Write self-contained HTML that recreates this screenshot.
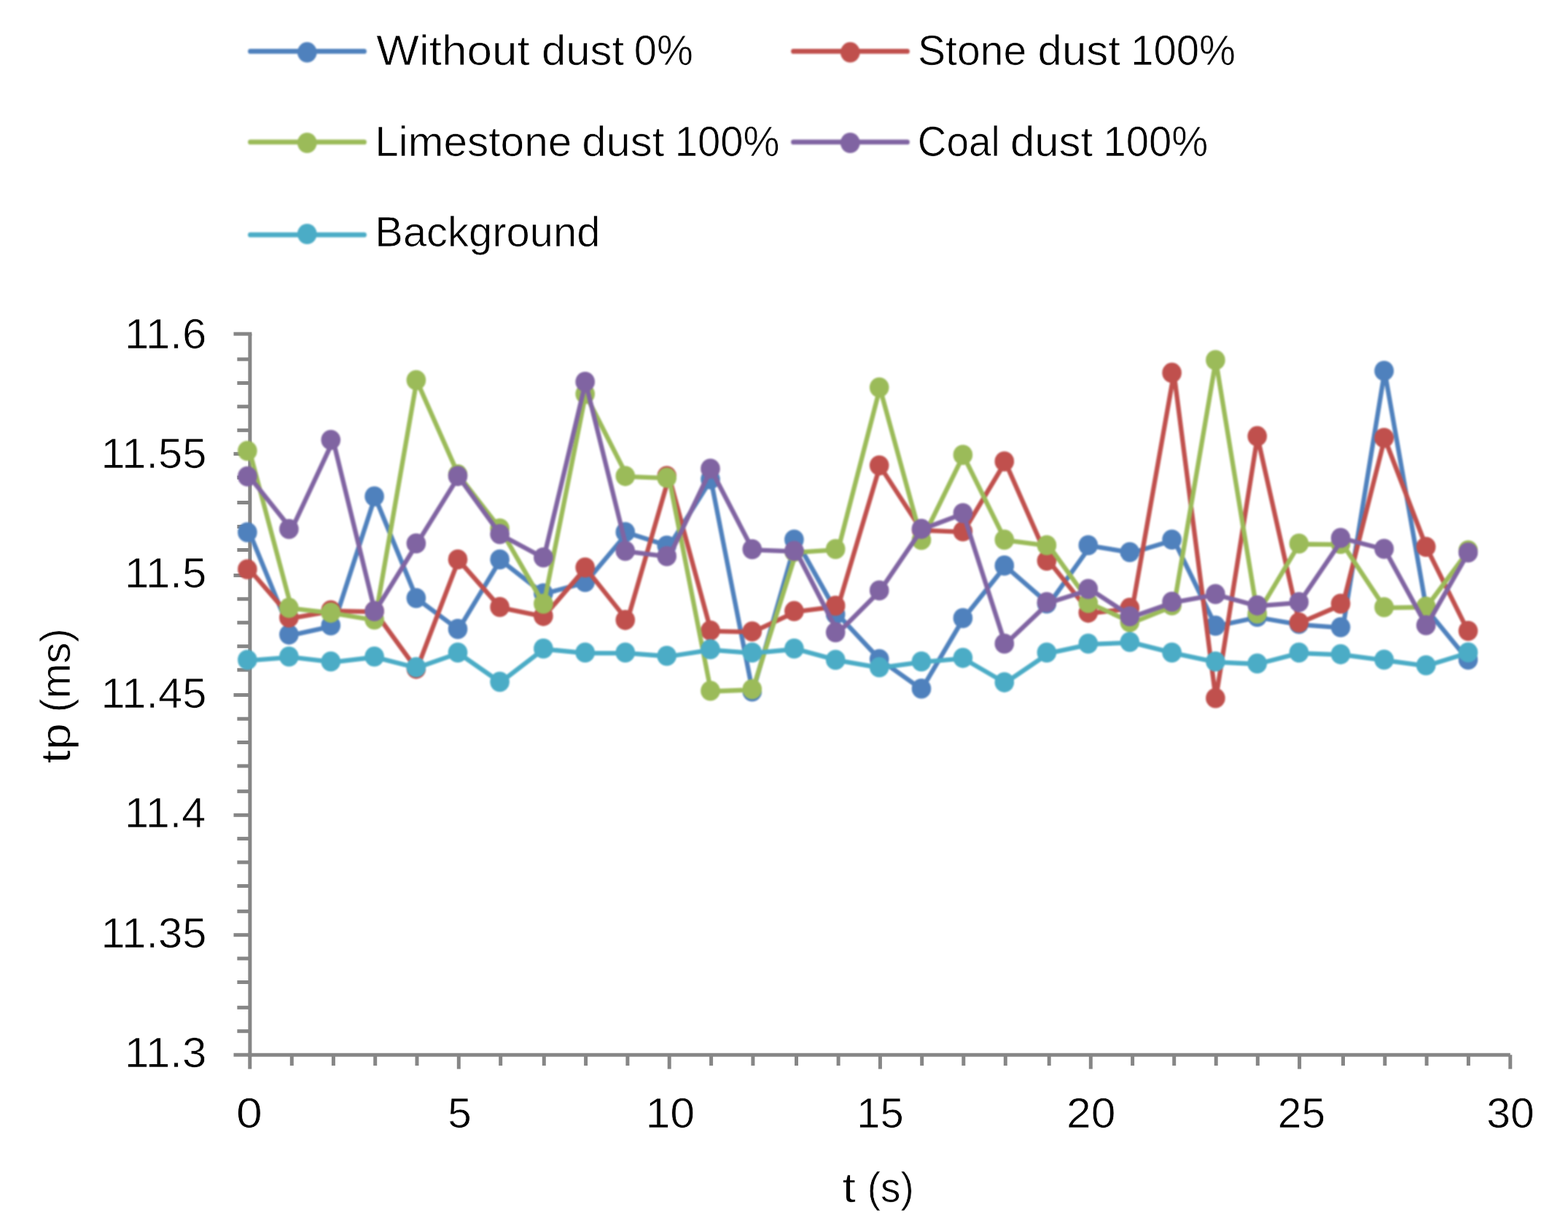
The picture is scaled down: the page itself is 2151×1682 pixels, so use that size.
<!DOCTYPE html>
<html lang="en">
<head>
<meta charset="utf-8">
<title>tp (ms) versus t (s)</title>
<style>
html,body{margin:0;padding:0;background:#ffffff;}
body{width:2151px;height:1682px;overflow:hidden;}
svg{display:block;}
.t{font-family:"Liberation Sans",sans-serif;fill:#000000;stroke:#ffffff;stroke-width:0.7px;}
</style>
</head>
<body>
<svg width="2151" height="1682" viewBox="0 0 2151 1682" role="img" aria-label="Line chart of tp (ms) versus t (s) for five dust conditions">
<rect width="2151" height="1682" fill="#ffffff"/>
<defs><filter id="soft" x="-5%" y="-5%" width="110%" height="110%" color-interpolation-filters="sRGB"><feGaussianBlur stdDeviation="0.8"/></filter></defs>
<g stroke="#868686" stroke-width="5" fill="none" stroke-linecap="butt">
<line x1="342.9" y1="458.1" x2="342.9" y2="1449.7"/>
<line x1="340.4" y1="1447.2" x2="2071.8" y2="1447.2"/>
<line x1="320.5" y1="458.1" x2="345.4" y2="458.1"/>
<line x1="325.4" y1="492.9" x2="342.9" y2="492.9"/>
<line x1="325.4" y1="525.5" x2="342.9" y2="525.5"/>
<line x1="325.4" y1="557.8" x2="342.9" y2="557.8"/>
<line x1="325.4" y1="590.3" x2="342.9" y2="590.3"/>
<line x1="320.5" y1="622.7" x2="342.9" y2="622.7"/>
<line x1="325.4" y1="655.1" x2="342.9" y2="655.1"/>
<line x1="325.4" y1="689.5" x2="342.9" y2="689.5"/>
<line x1="325.4" y1="722.5" x2="342.9" y2="722.5"/>
<line x1="325.4" y1="754.5" x2="342.9" y2="754.5"/>
<line x1="320.5" y1="789.4" x2="342.9" y2="789.4"/>
<line x1="325.4" y1="821.8" x2="342.9" y2="821.8"/>
<line x1="325.4" y1="854.2" x2="342.9" y2="854.2"/>
<line x1="325.4" y1="886.7" x2="342.9" y2="886.7"/>
<line x1="325.4" y1="919.1" x2="342.9" y2="919.1"/>
<line x1="320.5" y1="953.5" x2="342.9" y2="953.5"/>
<line x1="325.4" y1="986.2" x2="342.9" y2="986.2"/>
<line x1="325.4" y1="1018.5" x2="342.9" y2="1018.5"/>
<line x1="325.4" y1="1050.9" x2="342.9" y2="1050.9"/>
<line x1="325.4" y1="1085.7" x2="342.9" y2="1085.7"/>
<line x1="320.5" y1="1118.3" x2="342.9" y2="1118.3"/>
<line x1="325.4" y1="1150.6" x2="342.9" y2="1150.6"/>
<line x1="325.4" y1="1183.0" x2="342.9" y2="1183.0"/>
<line x1="325.4" y1="1215.5" x2="342.9" y2="1215.5"/>
<line x1="325.4" y1="1250.3" x2="342.9" y2="1250.3"/>
<line x1="320.5" y1="1282.7" x2="342.9" y2="1282.7"/>
<line x1="325.4" y1="1315.0" x2="342.9" y2="1315.0"/>
<line x1="325.4" y1="1347.5" x2="342.9" y2="1347.5"/>
<line x1="325.4" y1="1382.3" x2="342.9" y2="1382.3"/>
<line x1="325.4" y1="1414.7" x2="342.9" y2="1414.7"/>
<line x1="320.5" y1="1447.2" x2="342.9" y2="1447.2"/>
<line x1="342.8" y1="1447.2" x2="342.8" y2="1466.6"/>
<line x1="400.3" y1="1447.2" x2="400.3" y2="1462.0"/>
<line x1="457.4" y1="1447.2" x2="457.4" y2="1462.0"/>
<line x1="514.7" y1="1447.2" x2="514.7" y2="1462.0"/>
<line x1="572.0" y1="1447.2" x2="572.0" y2="1462.0"/>
<line x1="629.3" y1="1447.2" x2="629.3" y2="1466.6"/>
<line x1="686.7" y1="1447.2" x2="686.7" y2="1462.0"/>
<line x1="746.3" y1="1447.2" x2="746.3" y2="1462.0"/>
<line x1="803.6" y1="1447.2" x2="803.6" y2="1462.0"/>
<line x1="860.9" y1="1447.2" x2="860.9" y2="1462.0"/>
<line x1="918.2" y1="1447.2" x2="918.2" y2="1466.6"/>
<line x1="975.6" y1="1447.2" x2="975.6" y2="1462.0"/>
<line x1="1032.9" y1="1447.2" x2="1032.9" y2="1462.0"/>
<line x1="1092.5" y1="1447.2" x2="1092.5" y2="1462.0"/>
<line x1="1150.1" y1="1447.2" x2="1150.1" y2="1462.0"/>
<line x1="1207.4" y1="1447.2" x2="1207.4" y2="1466.6"/>
<line x1="1264.7" y1="1447.2" x2="1264.7" y2="1462.0"/>
<line x1="1321.8" y1="1447.2" x2="1321.8" y2="1462.0"/>
<line x1="1379.3" y1="1447.2" x2="1379.3" y2="1462.0"/>
<line x1="1439.2" y1="1447.2" x2="1439.2" y2="1462.0"/>
<line x1="1496.3" y1="1447.2" x2="1496.3" y2="1466.6"/>
<line x1="1553.6" y1="1447.2" x2="1553.6" y2="1462.0"/>
<line x1="1610.7" y1="1447.2" x2="1610.7" y2="1462.0"/>
<line x1="1668.2" y1="1447.2" x2="1668.2" y2="1462.0"/>
<line x1="1725.3" y1="1447.2" x2="1725.3" y2="1462.0"/>
<line x1="1782.6" y1="1447.2" x2="1782.6" y2="1466.6"/>
<line x1="1842.5" y1="1447.2" x2="1842.5" y2="1462.0"/>
<line x1="1899.8" y1="1447.2" x2="1899.8" y2="1462.0"/>
<line x1="1957.1" y1="1447.2" x2="1957.1" y2="1462.0"/>
<line x1="2014.4" y1="1447.2" x2="2014.4" y2="1462.0"/>
<line x1="2071.8" y1="1447.2" x2="2071.8" y2="1466.6"/>
</g>
<g filter="url(#soft)">
<g fill="#4f81bd" stroke="none">
<polyline points="342.5,731.1 400.0,871.4 457.1,858.8 514.4,681.8 571.7,821.3 629.0,863.7 686.4,768.3 746.0,814.8 803.3,799.3 860.6,730.9 917.9,749.3 975.3,658.4 1032.6,949.6 1092.2,741.0 1149.8,843.6 1207.1,905.0 1264.4,945.6 1321.5,848.8 1379.0,776.7 1438.9,828.8 1496.0,748.8 1553.3,758.3 1610.4,741.0 1667.9,859.2 1725.0,847.0 1782.3,856.8 1842.2,861.3 1899.5,509.5 1956.8,835.8 2014.1,905.8" fill="none" stroke="#4f81bd" stroke-width="6.3" stroke-linejoin="round" stroke-linecap="round"/>
<ellipse cx="339.4" cy="730.3" rx="13.3" ry="13.8"/>
<ellipse cx="396.4" cy="870.6" rx="13.3" ry="13.8"/>
<ellipse cx="453.8" cy="858.0" rx="13.3" ry="13.8"/>
<ellipse cx="513.6" cy="681.0" rx="13.3" ry="13.8"/>
<ellipse cx="570.9" cy="820.5" rx="13.3" ry="13.8"/>
<ellipse cx="628.0" cy="862.9" rx="13.3" ry="13.8"/>
<ellipse cx="685.6" cy="767.5" rx="13.3" ry="13.8"/>
<ellipse cx="745.4" cy="814.0" rx="13.3" ry="13.8"/>
<ellipse cx="802.7" cy="798.5" rx="13.3" ry="13.8"/>
<ellipse cx="857.8" cy="730.1" rx="13.3" ry="13.8"/>
<ellipse cx="914.7" cy="748.5" rx="13.3" ry="13.8"/>
<ellipse cx="974.5" cy="657.6" rx="13.3" ry="13.8"/>
<ellipse cx="1031.8" cy="948.8" rx="13.3" ry="13.8"/>
<ellipse cx="1089.4" cy="740.2" rx="13.3" ry="13.8"/>
<ellipse cx="1146.2" cy="842.8" rx="13.3" ry="13.8"/>
<ellipse cx="1206.2" cy="904.2" rx="13.3" ry="13.8"/>
<ellipse cx="1264.0" cy="944.8" rx="13.3" ry="13.8"/>
<ellipse cx="1320.9" cy="848.0" rx="13.3" ry="13.8"/>
<ellipse cx="1377.8" cy="775.9" rx="13.3" ry="13.8"/>
<ellipse cx="1435.9" cy="828.0" rx="13.3" ry="13.8"/>
<ellipse cx="1492.8" cy="748.0" rx="13.3" ry="13.8"/>
<ellipse cx="1549.8" cy="757.5" rx="13.3" ry="13.8"/>
<ellipse cx="1607.6" cy="740.2" rx="13.3" ry="13.8"/>
<ellipse cx="1667.4" cy="858.4" rx="13.3" ry="13.8"/>
<ellipse cx="1724.7" cy="846.2" rx="13.3" ry="13.8"/>
<ellipse cx="1781.9" cy="856.0" rx="13.3" ry="13.8"/>
<ellipse cx="1839.1" cy="860.5" rx="13.3" ry="13.8"/>
<ellipse cx="1898.7" cy="508.7" rx="13.3" ry="13.8"/>
<ellipse cx="1956.2" cy="835.0" rx="13.3" ry="13.8"/>
<ellipse cx="2014.0" cy="905.0" rx="13.3" ry="13.8"/>
</g>
<g fill="#c0504d" stroke="none">
<polyline points="342.5,781.8 400.0,848.1 457.1,838.1 514.4,839.4 571.7,918.4 629.0,768.3 686.4,833.6 746.0,845.9 803.3,779.4 860.6,851.4 917.9,653.8 975.3,865.9 1032.6,867.1 1092.2,839.2 1149.8,831.8 1207.1,639.4 1264.4,727.6 1321.5,729.8 1379.0,633.8 1438.9,770.0 1496.0,841.4 1553.3,834.7 1610.4,512.2 1667.9,958.6 1725.0,599.2 1782.3,854.8 1842.2,829.0 1899.5,601.5 1956.8,751.0 2014.1,866.3" fill="none" stroke="#c0504d" stroke-width="6.3" stroke-linejoin="round" stroke-linecap="round"/>
<ellipse cx="339.4" cy="781.0" rx="13.3" ry="13.8"/>
<ellipse cx="396.4" cy="847.3" rx="13.3" ry="13.8"/>
<ellipse cx="453.8" cy="837.3" rx="13.3" ry="13.8"/>
<ellipse cx="513.6" cy="838.6" rx="13.3" ry="13.8"/>
<ellipse cx="570.9" cy="917.6" rx="13.3" ry="13.8"/>
<ellipse cx="628.0" cy="767.5" rx="13.3" ry="13.8"/>
<ellipse cx="685.6" cy="832.8" rx="13.3" ry="13.8"/>
<ellipse cx="745.4" cy="845.1" rx="13.3" ry="13.8"/>
<ellipse cx="802.7" cy="778.6" rx="13.3" ry="13.8"/>
<ellipse cx="857.8" cy="850.6" rx="13.3" ry="13.8"/>
<ellipse cx="914.7" cy="653.0" rx="13.3" ry="13.8"/>
<ellipse cx="974.5" cy="865.1" rx="13.3" ry="13.8"/>
<ellipse cx="1031.8" cy="866.3" rx="13.3" ry="13.8"/>
<ellipse cx="1089.4" cy="838.4" rx="13.3" ry="13.8"/>
<ellipse cx="1146.2" cy="831.0" rx="13.3" ry="13.8"/>
<ellipse cx="1206.2" cy="638.6" rx="13.3" ry="13.8"/>
<ellipse cx="1264.0" cy="726.8" rx="13.3" ry="13.8"/>
<ellipse cx="1320.9" cy="729.0" rx="13.3" ry="13.8"/>
<ellipse cx="1377.8" cy="633.0" rx="13.3" ry="13.8"/>
<ellipse cx="1435.9" cy="769.2" rx="13.3" ry="13.8"/>
<ellipse cx="1492.8" cy="840.6" rx="13.3" ry="13.8"/>
<ellipse cx="1549.8" cy="833.9" rx="13.3" ry="13.8"/>
<ellipse cx="1607.6" cy="511.4" rx="13.3" ry="13.8"/>
<ellipse cx="1667.4" cy="957.8" rx="13.3" ry="13.8"/>
<ellipse cx="1724.7" cy="598.4" rx="13.3" ry="13.8"/>
<ellipse cx="1781.9" cy="854.0" rx="13.3" ry="13.8"/>
<ellipse cx="1839.1" cy="828.2" rx="13.3" ry="13.8"/>
<ellipse cx="1898.7" cy="600.7" rx="13.3" ry="13.8"/>
<ellipse cx="1956.2" cy="750.2" rx="13.3" ry="13.8"/>
<ellipse cx="2014.0" cy="865.5" rx="13.3" ry="13.8"/>
</g>
<g fill="#9bbb59" stroke="none">
<polyline points="342.5,619.3 400.0,834.7 457.1,841.4 514.4,850.8 571.7,522.3 629.0,651.7 686.4,725.8 746.0,829.1 803.3,541.2 860.6,653.9 917.9,656.2 975.3,948.5 1032.6,946.3 1092.2,757.8 1149.8,754.1 1207.1,532.3 1264.4,741.5 1321.5,624.9 1379.0,741.2 1438.9,748.8 1496.0,828.0 1553.3,854.3 1610.4,831.3 1667.9,494.8 1725.0,842.5 1782.3,746.5 1842.2,747.1 1899.5,833.8 1956.8,833.0 2014.1,755.9" fill="none" stroke="#9bbb59" stroke-width="6.3" stroke-linejoin="round" stroke-linecap="round"/>
<ellipse cx="339.4" cy="618.5" rx="13.3" ry="13.8"/>
<ellipse cx="396.4" cy="833.9" rx="13.3" ry="13.8"/>
<ellipse cx="453.8" cy="840.6" rx="13.3" ry="13.8"/>
<ellipse cx="513.6" cy="850.0" rx="13.3" ry="13.8"/>
<ellipse cx="570.9" cy="521.5" rx="13.3" ry="13.8"/>
<ellipse cx="628.0" cy="650.9" rx="13.3" ry="13.8"/>
<ellipse cx="685.6" cy="725.0" rx="13.3" ry="13.8"/>
<ellipse cx="745.4" cy="828.3" rx="13.3" ry="13.8"/>
<ellipse cx="802.7" cy="540.4" rx="13.3" ry="13.8"/>
<ellipse cx="857.8" cy="653.1" rx="13.3" ry="13.8"/>
<ellipse cx="914.7" cy="655.4" rx="13.3" ry="13.8"/>
<ellipse cx="974.5" cy="947.7" rx="13.3" ry="13.8"/>
<ellipse cx="1031.8" cy="945.5" rx="13.3" ry="13.8"/>
<ellipse cx="1089.4" cy="757.0" rx="13.3" ry="13.8"/>
<ellipse cx="1146.2" cy="753.3" rx="13.3" ry="13.8"/>
<ellipse cx="1206.2" cy="531.5" rx="13.3" ry="13.8"/>
<ellipse cx="1264.0" cy="740.7" rx="13.3" ry="13.8"/>
<ellipse cx="1320.9" cy="624.1" rx="13.3" ry="13.8"/>
<ellipse cx="1377.8" cy="740.4" rx="13.3" ry="13.8"/>
<ellipse cx="1435.9" cy="748.0" rx="13.3" ry="13.8"/>
<ellipse cx="1492.8" cy="827.2" rx="13.3" ry="13.8"/>
<ellipse cx="1549.8" cy="853.5" rx="13.3" ry="13.8"/>
<ellipse cx="1607.6" cy="830.5" rx="13.3" ry="13.8"/>
<ellipse cx="1667.4" cy="494.0" rx="13.3" ry="13.8"/>
<ellipse cx="1724.7" cy="841.7" rx="13.3" ry="13.8"/>
<ellipse cx="1781.9" cy="745.7" rx="13.3" ry="13.8"/>
<ellipse cx="1839.1" cy="746.3" rx="13.3" ry="13.8"/>
<ellipse cx="1898.7" cy="833.0" rx="13.3" ry="13.8"/>
<ellipse cx="1956.2" cy="832.2" rx="13.3" ry="13.8"/>
<ellipse cx="2014.0" cy="755.1" rx="13.3" ry="13.8"/>
</g>
<g fill="#8064a2" stroke="none">
<polyline points="342.5,654.4 400.0,726.5 457.1,604.4 514.4,839.2 571.7,746.3 629.0,653.9 686.4,733.5 746.0,765.5 803.3,524.5 860.6,756.6 917.9,763.8 975.3,643.8 1032.6,754.3 1092.2,756.6 1149.8,868.2 1207.1,810.8 1264.4,726.4 1321.5,704.8 1379.0,883.8 1438.9,826.9 1496.0,808.8 1553.3,846.3 1610.4,826.3 1667.9,815.8 1725.0,831.4 1782.3,826.9 1842.2,738.8 1899.5,753.8 1956.8,858.6 2014.1,758.8" fill="none" stroke="#8064a2" stroke-width="6.3" stroke-linejoin="round" stroke-linecap="round"/>
<ellipse cx="339.4" cy="653.6" rx="13.3" ry="13.8"/>
<ellipse cx="396.4" cy="725.7" rx="13.3" ry="13.8"/>
<ellipse cx="453.8" cy="603.6" rx="13.3" ry="13.8"/>
<ellipse cx="513.6" cy="838.4" rx="13.3" ry="13.8"/>
<ellipse cx="570.9" cy="745.5" rx="13.3" ry="13.8"/>
<ellipse cx="628.0" cy="653.1" rx="13.3" ry="13.8"/>
<ellipse cx="685.6" cy="732.7" rx="13.3" ry="13.8"/>
<ellipse cx="745.4" cy="764.7" rx="13.3" ry="13.8"/>
<ellipse cx="802.7" cy="523.7" rx="13.3" ry="13.8"/>
<ellipse cx="857.8" cy="755.8" rx="13.3" ry="13.8"/>
<ellipse cx="914.7" cy="763.0" rx="13.3" ry="13.8"/>
<ellipse cx="974.5" cy="643.0" rx="13.3" ry="13.8"/>
<ellipse cx="1031.8" cy="753.5" rx="13.3" ry="13.8"/>
<ellipse cx="1089.4" cy="755.8" rx="13.3" ry="13.8"/>
<ellipse cx="1146.2" cy="867.4" rx="13.3" ry="13.8"/>
<ellipse cx="1206.2" cy="810.0" rx="13.3" ry="13.8"/>
<ellipse cx="1264.0" cy="725.6" rx="13.3" ry="13.8"/>
<ellipse cx="1320.9" cy="704.0" rx="13.3" ry="13.8"/>
<ellipse cx="1377.8" cy="883.0" rx="13.3" ry="13.8"/>
<ellipse cx="1435.9" cy="826.1" rx="13.3" ry="13.8"/>
<ellipse cx="1492.8" cy="808.0" rx="13.3" ry="13.8"/>
<ellipse cx="1549.8" cy="845.5" rx="13.3" ry="13.8"/>
<ellipse cx="1607.6" cy="825.5" rx="13.3" ry="13.8"/>
<ellipse cx="1667.4" cy="815.0" rx="13.3" ry="13.8"/>
<ellipse cx="1724.7" cy="830.6" rx="13.3" ry="13.8"/>
<ellipse cx="1781.9" cy="826.1" rx="13.3" ry="13.8"/>
<ellipse cx="1839.1" cy="738.0" rx="13.3" ry="13.8"/>
<ellipse cx="1898.7" cy="753.0" rx="13.3" ry="13.8"/>
<ellipse cx="1956.2" cy="857.8" rx="13.3" ry="13.8"/>
<ellipse cx="2014.0" cy="758.0" rx="13.3" ry="13.8"/>
</g>
<g fill="#4bacc6" stroke="none">
<polyline points="342.5,906.1 400.0,901.6 457.1,908.3 514.4,901.6 571.7,916.2 629.0,896.1 686.4,936.2 746.0,890.5 803.3,896.1 860.6,896.1 917.9,900.5 975.3,891.6 1032.6,896.1 1092.2,890.5 1149.8,906.1 1207.1,916.2 1264.4,908.3 1321.5,903.4 1379.0,936.9 1438.9,896.1 1496.0,883.8 1553.3,881.6 1610.4,896.1 1667.9,908.3 1725.0,911.0 1782.3,896.1 1842.2,898.4 1899.5,905.8 1956.8,913.6 2014.1,895.8" fill="none" stroke="#4bacc6" stroke-width="6.3" stroke-linejoin="round" stroke-linecap="round"/>
<ellipse cx="339.4" cy="905.3" rx="13.3" ry="13.8"/>
<ellipse cx="396.4" cy="900.8" rx="13.3" ry="13.8"/>
<ellipse cx="453.8" cy="907.5" rx="13.3" ry="13.8"/>
<ellipse cx="513.6" cy="900.8" rx="13.3" ry="13.8"/>
<ellipse cx="570.9" cy="915.4" rx="13.3" ry="13.8"/>
<ellipse cx="628.0" cy="895.3" rx="13.3" ry="13.8"/>
<ellipse cx="685.6" cy="935.4" rx="13.3" ry="13.8"/>
<ellipse cx="745.4" cy="889.7" rx="13.3" ry="13.8"/>
<ellipse cx="802.7" cy="895.3" rx="13.3" ry="13.8"/>
<ellipse cx="857.8" cy="895.3" rx="13.3" ry="13.8"/>
<ellipse cx="914.7" cy="899.7" rx="13.3" ry="13.8"/>
<ellipse cx="974.5" cy="890.8" rx="13.3" ry="13.8"/>
<ellipse cx="1031.8" cy="895.3" rx="13.3" ry="13.8"/>
<ellipse cx="1089.4" cy="889.7" rx="13.3" ry="13.8"/>
<ellipse cx="1146.2" cy="905.3" rx="13.3" ry="13.8"/>
<ellipse cx="1206.2" cy="915.4" rx="13.3" ry="13.8"/>
<ellipse cx="1264.0" cy="907.5" rx="13.3" ry="13.8"/>
<ellipse cx="1320.9" cy="902.6" rx="13.3" ry="13.8"/>
<ellipse cx="1377.8" cy="936.1" rx="13.3" ry="13.8"/>
<ellipse cx="1435.9" cy="895.3" rx="13.3" ry="13.8"/>
<ellipse cx="1492.8" cy="883.0" rx="13.3" ry="13.8"/>
<ellipse cx="1549.8" cy="880.8" rx="13.3" ry="13.8"/>
<ellipse cx="1607.6" cy="895.3" rx="13.3" ry="13.8"/>
<ellipse cx="1667.4" cy="907.5" rx="13.3" ry="13.8"/>
<ellipse cx="1724.7" cy="910.2" rx="13.3" ry="13.8"/>
<ellipse cx="1781.9" cy="895.3" rx="13.3" ry="13.8"/>
<ellipse cx="1839.1" cy="897.6" rx="13.3" ry="13.8"/>
<ellipse cx="1898.7" cy="905.0" rx="13.3" ry="13.8"/>
<ellipse cx="1956.2" cy="912.8" rx="13.3" ry="13.8"/>
<ellipse cx="2014.0" cy="895.0" rx="13.3" ry="13.8"/>
</g>
</g>
<g filter="url(#soft)"><line x1="343.5" y1="70.4" x2="499.5" y2="70.4" stroke="#4f81bd" stroke-width="6.8" stroke-linecap="round"/><ellipse cx="421.3" cy="71.8" rx="13.3" ry="14.0" fill="#4f81bd"/></g>
<text y="88.75" font-size="56.5" class="t"><tspan x="516.39" textLength="210.43" lengthAdjust="spacingAndGlyphs">Without</tspan> <tspan x="742.90" textLength="113.31" lengthAdjust="spacingAndGlyphs">dust</tspan> <tspan x="869.75" textLength="81.13" lengthAdjust="spacingAndGlyphs">0%</tspan></text>
<g filter="url(#soft)"><line x1="1088.5" y1="70.4" x2="1244.5" y2="70.4" stroke="#c0504d" stroke-width="6.8" stroke-linecap="round"/><ellipse cx="1166.3" cy="71.8" rx="13.3" ry="14.0" fill="#c0504d"/></g>
<text y="88.75" font-size="56.5" class="t"><tspan x="1259.03" textLength="149.24" lengthAdjust="spacingAndGlyphs">Stone</tspan> <tspan x="1423.60" textLength="113.31" lengthAdjust="spacingAndGlyphs">dust</tspan> <tspan x="1551.28" textLength="143.84" lengthAdjust="spacingAndGlyphs">100%</tspan></text>
<g filter="url(#soft)"><line x1="343.5" y1="194.9" x2="499.5" y2="194.9" stroke="#9bbb59" stroke-width="6.8" stroke-linecap="round"/><ellipse cx="421.3" cy="196.0" rx="13.3" ry="14.0" fill="#9bbb59"/></g>
<text y="213.75" font-size="56.5" class="t"><tspan x="514.22" textLength="270.05" lengthAdjust="spacingAndGlyphs">Limestone</tspan> <tspan x="798.20" textLength="113.31" lengthAdjust="spacingAndGlyphs">dust</tspan> <tspan x="925.78" textLength="143.84" lengthAdjust="spacingAndGlyphs">100%</tspan></text>
<g filter="url(#soft)"><line x1="1088.5" y1="194.9" x2="1244.5" y2="194.9" stroke="#8064a2" stroke-width="6.8" stroke-linecap="round"/><ellipse cx="1166.3" cy="196.0" rx="13.3" ry="14.0" fill="#8064a2"/></g>
<text y="213.75" font-size="56.5" class="t"><tspan x="1258.86" textLength="112.90" lengthAdjust="spacingAndGlyphs">Coal</tspan> <tspan x="1385.90" textLength="113.20" lengthAdjust="spacingAndGlyphs">dust</tspan> <tspan x="1513.48" textLength="143.84" lengthAdjust="spacingAndGlyphs">100%</tspan></text>
<g filter="url(#soft)"><line x1="343.5" y1="322.2" x2="499.5" y2="322.2" stroke="#4bacc6" stroke-width="6.8" stroke-linecap="round"/><ellipse cx="421.3" cy="321.0" rx="13.3" ry="14.0" fill="#4bacc6"/></g>
<text y="337.90" font-size="56.5" class="t"><tspan x="514.27" textLength="309.11" lengthAdjust="spacingAndGlyphs">Background</tspan></text>
<text y="477.80" font-size="57.0" class="t"><tspan x="171.10" textLength="112.22" lengthAdjust="spacingAndGlyphs">11.6</tspan></text>
<text y="642.30" font-size="57.0" class="t"><tspan x="138.53" textLength="144.86" lengthAdjust="spacingAndGlyphs">11.55</tspan></text>
<text y="806.30" font-size="57.0" class="t"><tspan x="171.10" textLength="112.22" lengthAdjust="spacingAndGlyphs">11.5</tspan></text>
<text y="970.70" font-size="57.0" class="t"><tspan x="138.53" textLength="144.86" lengthAdjust="spacingAndGlyphs">11.45</tspan></text>
<text y="1134.90" font-size="57.0" class="t"><tspan x="171.14" textLength="111.27" lengthAdjust="spacingAndGlyphs">11.4</tspan></text>
<text y="1299.60" font-size="57.0" class="t"><tspan x="138.53" textLength="144.86" lengthAdjust="spacingAndGlyphs">11.35</tspan></text>
<text y="1464.30" font-size="57.0" class="t"><tspan x="171.10" textLength="112.22" lengthAdjust="spacingAndGlyphs">11.3</tspan></text>
<text y="1546.50" font-size="57.0" class="t"><tspan x="324.12" textLength="35.83" lengthAdjust="spacingAndGlyphs">0</tspan></text>
<text y="1546.50" font-size="57.0" class="t"><tspan x="614.16" textLength="32.55" lengthAdjust="spacingAndGlyphs">5</tspan></text>
<text y="1546.50" font-size="57.0" class="t"><tspan x="885.42" textLength="67.85" lengthAdjust="spacingAndGlyphs">10</tspan></text>
<text y="1546.50" font-size="57.0" class="t"><tspan x="1175.25" textLength="64.50" lengthAdjust="spacingAndGlyphs">15</tspan></text>
<text y="1546.50" font-size="57.0" class="t"><tspan x="1463.07" textLength="67.39" lengthAdjust="spacingAndGlyphs">20</tspan></text>
<text y="1546.50" font-size="57.0" class="t"><tspan x="1752.76" textLength="65.32" lengthAdjust="spacingAndGlyphs">25</tspan></text>
<text y="1546.50" font-size="57.0" class="t"><tspan x="2039.24" textLength="65.56" lengthAdjust="spacingAndGlyphs">30</tspan></text>
<text y="1648.80" font-size="56.5" class="t"><tspan x="1155.40" textLength="18.53" lengthAdjust="spacingAndGlyphs">t</tspan> <tspan x="1189.70" textLength="64.05" lengthAdjust="spacingAndGlyphs">(s)</tspan></text>
<text y="0.00" font-size="56.5" transform="translate(95.8 1046.4) rotate(-90)" class="t"><tspan x="-1.00" textLength="55.53" lengthAdjust="spacingAndGlyphs">tp</tspan> <tspan x="68.94" textLength="115.36" lengthAdjust="spacingAndGlyphs">(ms)</tspan></text>
</svg>
</body>
</html>
